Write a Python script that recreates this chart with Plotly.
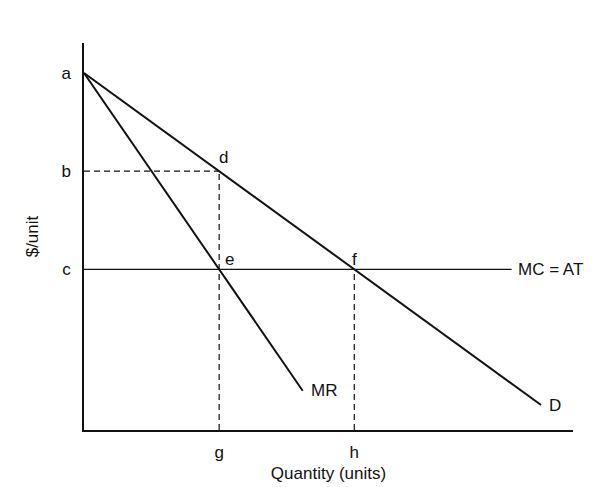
import plotly.graph_objects as go

# Economic model values
price_intercept = 10.0
demand_slope = 0.5
cost = 4.5
q_monopoly = 5.5
p_monopoly = 7.25
q_competitive = 11.0
demand_end = [18.6, 0.7]
mr_end = [8.9, 1.1]
mc_end = 17.4
ytick_vals = [price_intercept, p_monopoly, cost]
ytick_text = ["a", "b", "c"]
xtick_vals = [q_monopoly, q_competitive]
xtick_text = ["g", "h"]

blk = "#111"
fig = go.Figure()
def line(x, y, dash="solid", w=2):
    fig.add_trace(go.Scatter(x=x, y=y, mode="lines", line=dict(color=blk, width=w, dash=dash),
                             hoverinfo="skip", showlegend=False, cliponaxis=False))

line([0, demand_end[0]], [price_intercept, demand_end[1]])
line([0, mr_end[0]], [price_intercept, mr_end[1]])
line([0, mc_end], [cost, cost], w=1.3)
line([0, q_monopoly], [p_monopoly, p_monopoly], dash="6px,4px", w=1.2)
line([q_monopoly, q_monopoly], [0, p_monopoly], dash="6px,4px", w=1.2)
line([q_competitive, q_competitive], [0, cost], dash="6px,4px", w=1.2)

f = dict(family="Liberation Sans, Arial", size=17, color=blk)
def ann(x, y, t, xa="left", ya="bottom", xs=0, ys=0):
    fig.add_annotation(x=x, y=y, text=t, showarrow=False, xanchor=xa, yanchor=ya,
                       xshift=xs, yshift=ys, font=f)
ann(q_monopoly, p_monopoly, "d", xs=-2, ys=2)
ann(q_monopoly, cost, "e", xs=4, ys=-2)
ann(q_competitive, cost, "f", xa="center", ys=-2)
ann(mc_end, cost, "MC = ATC", xa="left", ya="middle", xs=4)
ann(mr_end[0], mr_end[1], "MR", xa="left", ya="middle", xs=6)
ann(demand_end[0], demand_end[1], "D", xa="left", ya="middle", xs=6)

fig.update_layout(
    width=592, height=487, plot_bgcolor="white", paper_bgcolor="white",
    margin=dict(l=76, r=27, t=35, b=65), font=f,
    xaxis=dict(range=[0, 19.9], showline=True, linecolor=blk, linewidth=1.5, showgrid=False,
               zeroline=False, tickvals=xtick_vals, ticktext=xtick_text, ticks="", automargin=False,
               tickfont=f, ticklabelstandoff=6,
               title=dict(text="Quantity (units)", standoff=6, font=f)),
    yaxis=dict(range=[0, 10.84], showline=True, linecolor=blk, linewidth=1.5, showgrid=False,
               zeroline=False, tickvals=ytick_vals, ticktext=ytick_text, ticks="", automargin=False,
               tickfont=f, ticklabelstandoff=8,
               title=dict(text="$/unit", standoff=18, font=f)),
)
fig.write_html("out.html")
